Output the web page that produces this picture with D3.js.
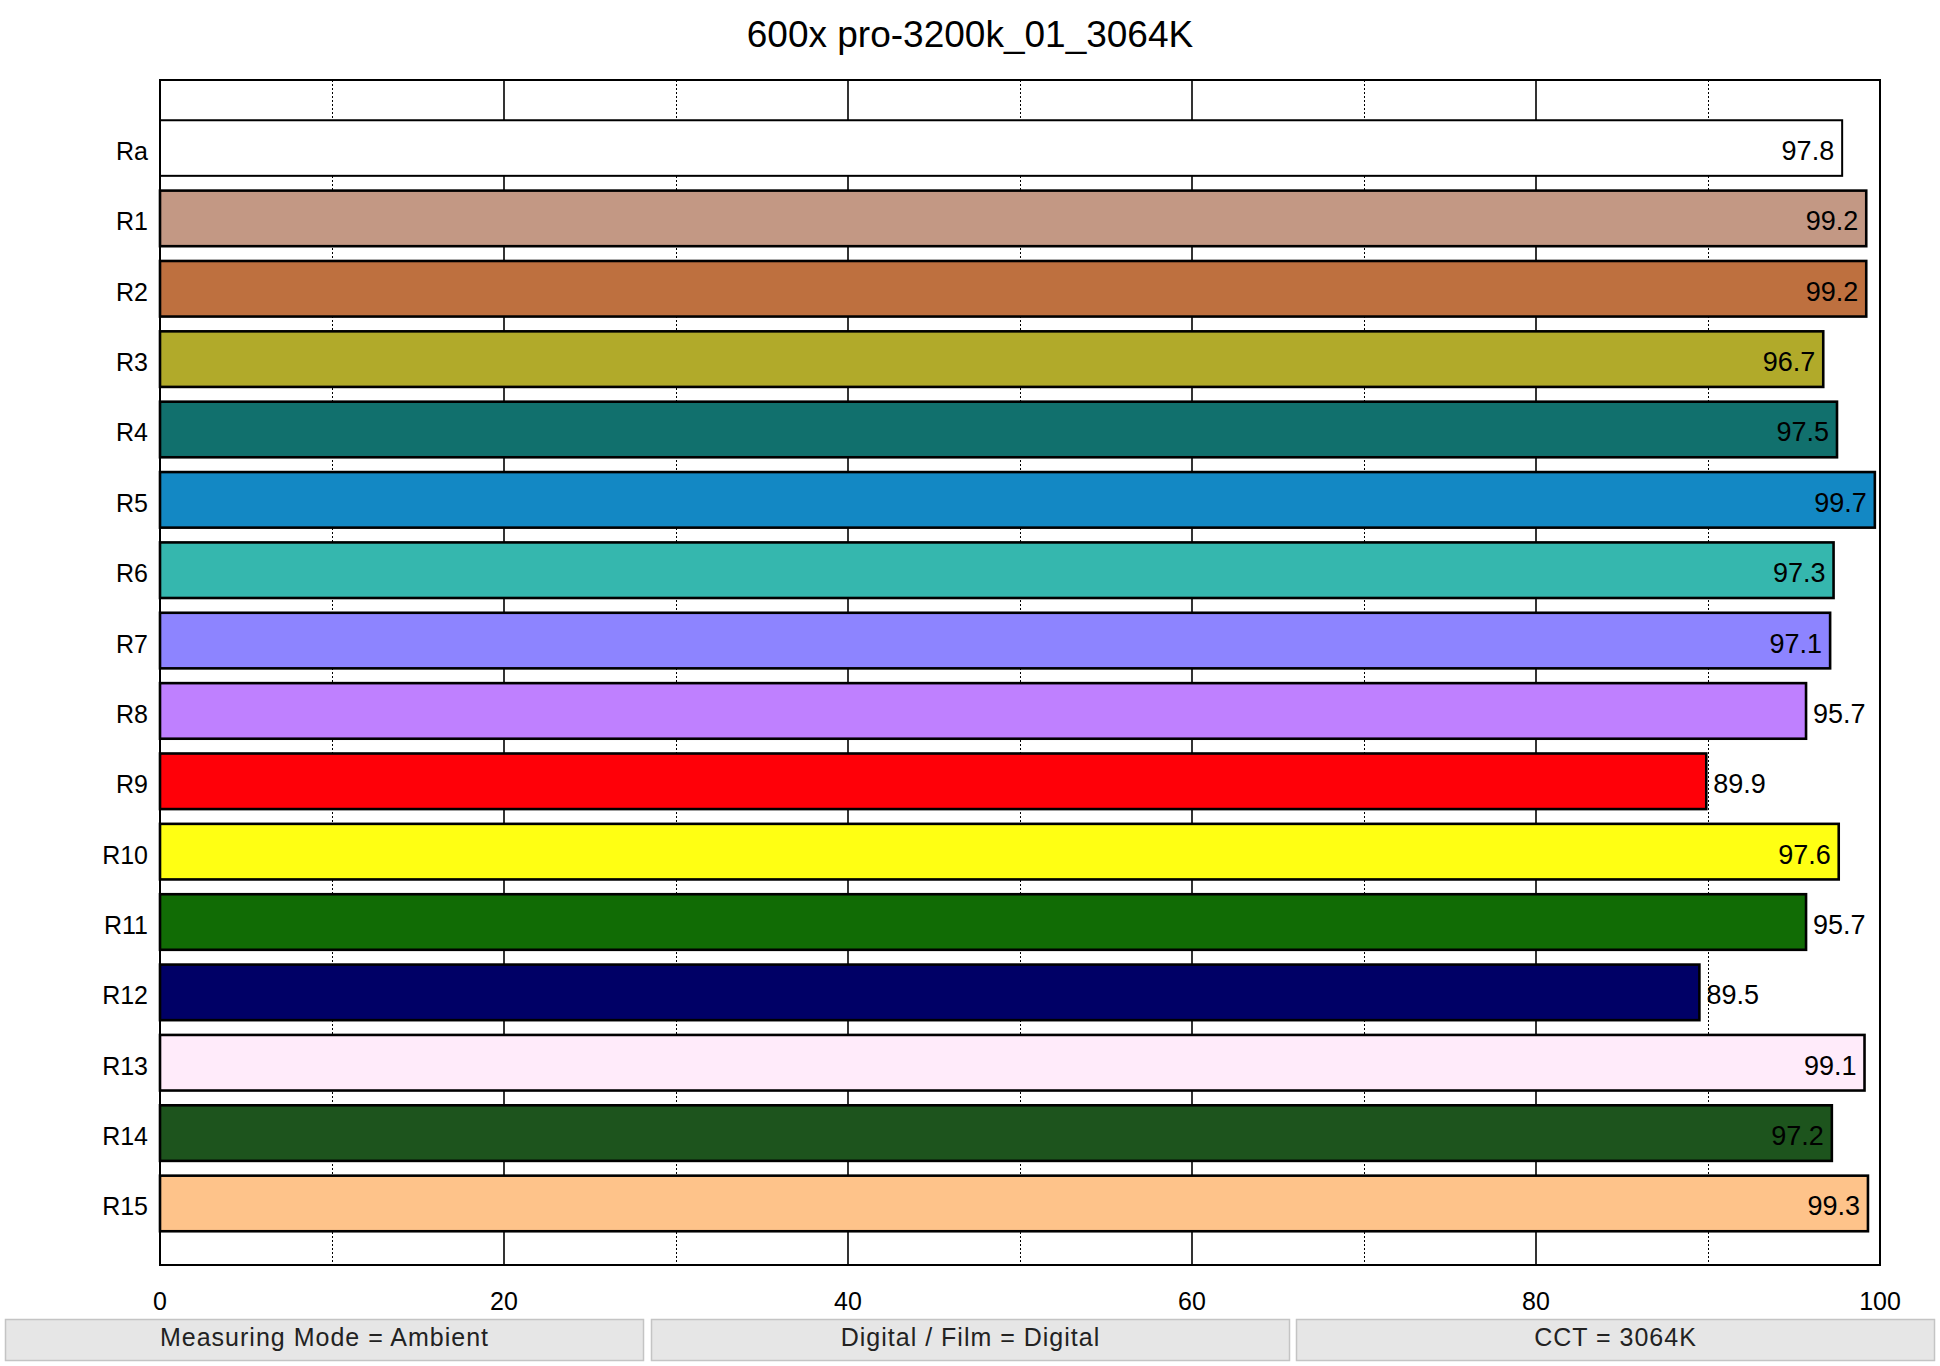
<!DOCTYPE html>
<html>
<head>
<meta charset="utf-8">
<script src="https://cdn.jsdelivr.net/npm/d3@7"></script>
<style>
  html, body { margin: 0; padding: 0; background: #fff; }
  svg { display: block; font-family: "Liberation Sans", Arial, Helvetica, sans-serif; }
</style>
</head>
<body>
<svg id="chart" width="1940" height="1366"></svg>
<script>
const titleText = "600x pro-3200k_01_3064K";
const categories = ["Ra","R1","R2","R3","R4","R5","R6","R7","R8","R9","R10","R11","R12","R13","R14","R15"];
const values = [97.8, 99.2, 99.2, 96.7, 97.5, 99.7, 97.3, 97.1, 95.7, 89.9, 97.6, 95.7, 89.5, 99.1, 97.2, 99.3];
const barColors = ["#ffffff","#c39884","#be703f","#b1aa2a","#11706d","#1388c4","#35b7ae","#8d84ff","#bf80ff","#ff0008","#ffff13","#116c05","#000066","#ffebfa","#1d541d","#fec38a"];
const majorTicks = [0, 20, 40, 60, 80, 100];
const minorTicks = [10, 30, 50, 70, 90];
const footerTexts = ["Measuring Mode = Ambient", "Digital / Film = Digital", "CCT = 3064K"];

const svg = d3.select("#chart");
const plot = { left: 160, right: 1880, top: 80, bottom: 1265 };

const x = d3.scaleLinear().domain([0, 100]).range([plot.left, plot.right]);
const y = d3.scaleBand().domain(categories).range([120.25, 1231.25]).paddingInner(0.21).paddingOuter(0);

// title
svg.append("text")
  .attr("x", 970).attr("y", 47)
  .attr("text-anchor", "middle")
  .attr("font-size", 37)
  .attr("fill", "#000")
  .text(titleText);

// grid
const g = svg.append("g");
g.selectAll("line.minor").data(minorTicks).enter().append("line")
  .attr("class", "minor")
  .attr("x1", d => Math.round(x(d)) + 0.5).attr("x2", d => Math.round(x(d)) + 0.5)
  .attr("y1", plot.top).attr("y2", plot.bottom)
  .attr("stroke", "#000").attr("stroke-width", 1).attr("stroke-dasharray", "2,2");
g.selectAll("line.major").data(majorTicks.filter(d => d > 0 && d < 100)).enter().append("line")
  .attr("class", "major")
  .attr("x1", d => x(d)).attr("x2", d => x(d))
  .attr("y1", plot.top).attr("y2", plot.bottom)
  .attr("stroke", "#000").attr("stroke-width", 1.6);

// bars
const data = categories.map((c, i) => ({ cat: c, value: values[i], color: barColors[i] }));
svg.append("g").selectAll("rect").data(data).enter().append("rect")
  .attr("x", x(0))
  .attr("y", d => y(d.cat))
  .attr("width", d => x(d.value) - x(0))
  .attr("height", y.bandwidth())
  .attr("fill", d => d.color)
  .attr("stroke", "#000")
  .attr("stroke-width", (d, i) => i === 0 ? 2 : 2.6);

// value labels
svg.append("g").selectAll("text").data(data).enter().append("text")
  .attr("x", d => d.value >= 96 ? x(d.value) - 8 : x(d.value) + 7)
  .attr("y", d => y(d.cat) + y.bandwidth() / 2 + 12)
  .attr("text-anchor", d => d.value >= 96 ? "end" : "start")
  .attr("font-size", 27)
  .attr("fill", "#000")
  .text(d => d.value.toFixed(1));

// category labels
svg.append("g").selectAll("text").data(categories).enter().append("text")
  .attr("x", 148)
  .attr("y", d => y(d) + y.bandwidth() / 2 + 12)
  .attr("text-anchor", "end")
  .attr("font-size", 25)
  .attr("fill", "#000")
  .text(d => d);

// frame
svg.append("rect")
  .attr("x", plot.left).attr("y", plot.top)
  .attr("width", plot.right - plot.left).attr("height", plot.bottom - plot.top)
  .attr("fill", "none").attr("stroke", "#000").attr("stroke-width", 2);

// x tick labels
svg.append("g").selectAll("text").data(majorTicks).enter().append("text")
  .attr("x", d => x(d))
  .attr("y", 1310)
  .attr("text-anchor", "middle")
  .attr("font-size", 25)
  .attr("fill", "#000")
  .text(d => d);

// footer boxes
const boxX = [5, 651, 1296];
const boxW = 639;
const fg = svg.append("g");
footerTexts.forEach((t, i) => {
  fg.append("rect")
    .attr("x", boxX[i] + 0.5).attr("y", 1319.5)
    .attr("width", boxW - 1).attr("height", 41)
    .attr("fill", "#e6e6e6").attr("stroke", "#c4c4c4").attr("stroke-width", 1.5);
  fg.append("text")
    .attr("x", boxX[i] + boxW / 2).attr("y", 1346)
    .attr("text-anchor", "middle")
    .attr("font-size", 25)
    .attr("letter-spacing", 1)
    .attr("fill", "#222")
    .text(t);
});
</script>
</body>
</html>
